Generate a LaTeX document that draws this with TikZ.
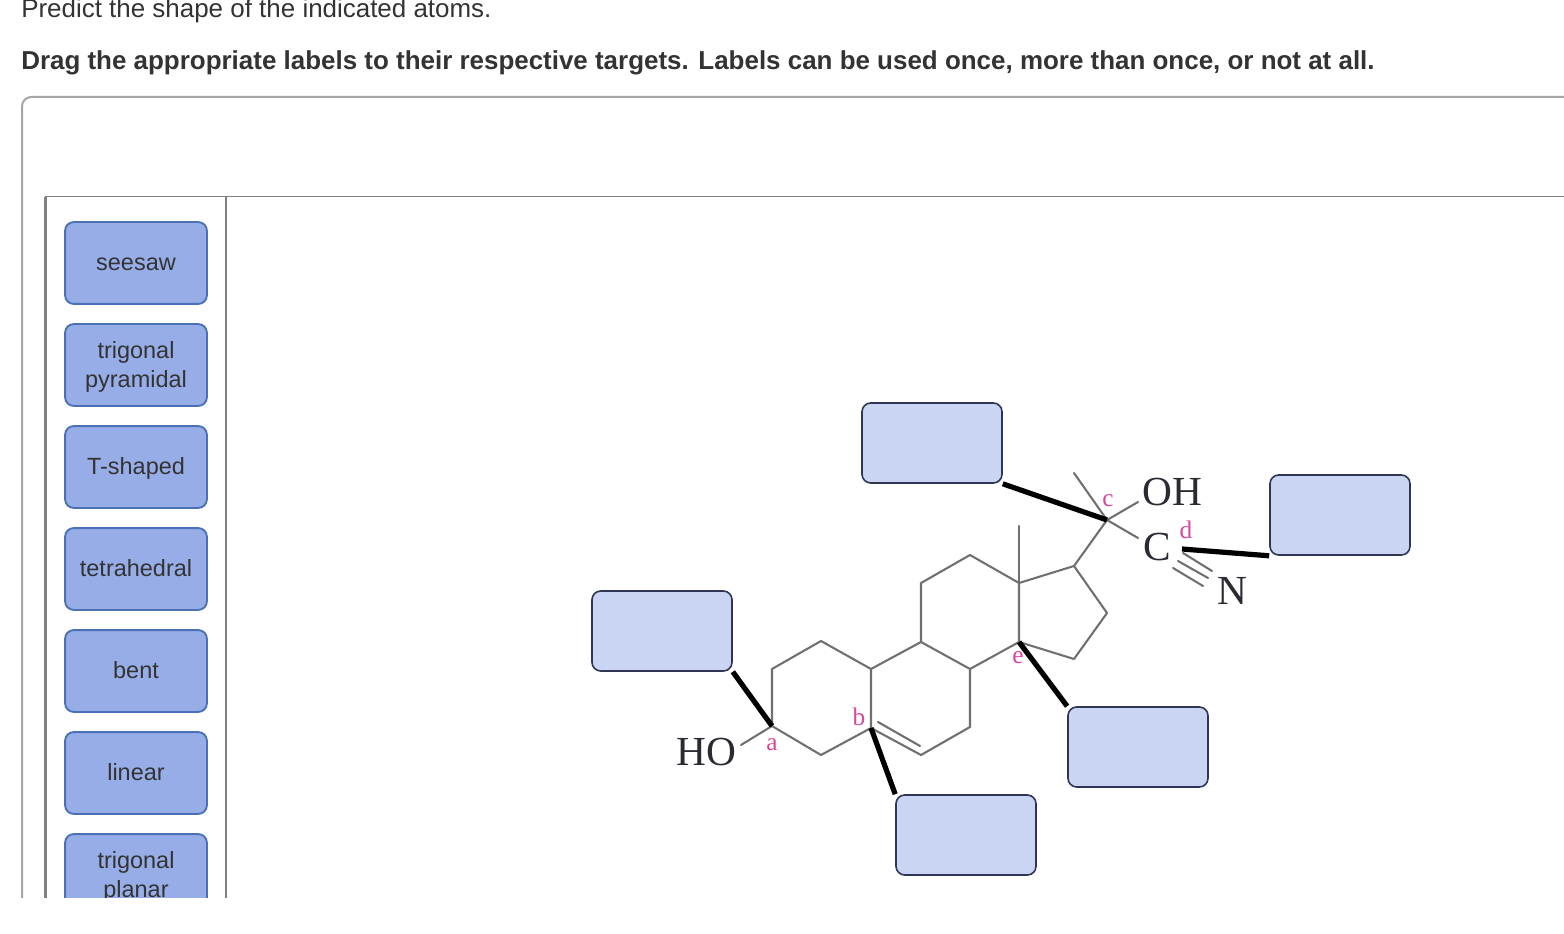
\documentclass[tikz,border=0pt]{standalone}
\usepackage{fontspec}
\setmainfont{Liberation Sans}
\newfontfamily\chemfont{Liberation Serif}
\definecolor{txt}{HTML}{333333}
\definecolor{lblfill}{HTML}{97ADE7}
\definecolor{lbledge}{HTML}{4C70B5}
\definecolor{tgtfill}{HTML}{C9D5F3}
\definecolor{tgtedge}{HTML}{2F3553}
\definecolor{bondc}{HTML}{6F6F6F}
\definecolor{pinkc}{HTML}{D8479E}
\definecolor{chemc}{HTML}{2A2A33}
\newcommand{\firstline}{\rule{0pt}{15.8pt}}
\tikzset{
  x=0.75pt,y=-0.75pt,
  lblbox/.style={draw=lbledge,fill=lblfill,line width=1.4pt,rounded corners=6.5pt,minimum width=106.4pt,minimum height=61.4pt,inner sep=0pt,align=center,text=txt,font=\fontsize{17.6pt}{21.7pt}\selectfont},
  lblsingle/.style={lblbox,text height=14pt,text depth=2.8pt},
  tgtbox/.style={draw=tgtedge,fill=tgtfill,line width=1.2pt,rounded corners=6.5pt,minimum width=105pt,minimum height=60pt,inner sep=0pt},
  bond/.style={draw=bondc,line width=1.55pt,line cap=round,line join=round},
  leader/.style={draw=black,line width=3.9pt},
  atomlab/.style={inner sep=0pt,text=chemc,font=\chemfont\fontsize{31pt}{31pt}\selectfont},
  sitelab/.style={inner sep=0pt,text=pinkc,font=\chemfont\fontsize{19pt}{19pt}\selectfont},
  heading/.style={inner sep=0pt,anchor=base west,text=txt},
  panel/.style={draw=#1}
}
\begin{document}
\begin{tikzpicture}
\useasboundingbox (0,0) rectangle (1564,934);
\fill[white] (0,0) rectangle (1564,934);
\node[heading,font=\fontsize{19.46pt}{22pt}\selectfont] (q1) at (21,18) {Predict the shape of the indicated atoms.};
\node[heading,font=\bfseries\fontsize{19.46pt}{22pt}\selectfont] (q2) at (21,70) {Drag the appropriate labels to their respective targets. Labels can be used once, more than once, or not at all.};
\begin{scope}
\clip (0,0) rectangle (1564,897);
\draw[panel={black!35},line width=1.5pt,rounded corners=7pt] (22,920) -- (22,97) -- (1580,97);
\draw[panel={black!50},line width=0.75pt] (45,197) -- (1580,197);
\draw[panel={black!50},line width=2.6pt] (45.5,197) -- (45.5,920);
\draw[panel={black!50},line width=1.5pt] (226,197) -- (226,920);
\node[lblsingle] (l1) at (136,263) {seesaw};
\node[lblbox] (l2) at (136,365) {\firstline trigonal\\pyramidal};
\node[lblsingle] (l3) at (136,467) {T-shaped};
\node[lblsingle] (l4) at (136,569) {tetrahedral};
\node[lblsingle] (l5) at (136,671) {bent};
\node[lblsingle] (l6) at (136,773) {linear};
\node[lblbox] (l7) at (136,875) {\firstline trigonal\\planar};
\end{scope}
% atoms
\coordinate (a) at (772,726);
\coordinate (a1) at (772,669);
\coordinate (a2) at (821,641);
\coordinate (j1) at (871,669);
\coordinate (b) at (871,728);
\coordinate (a3) at (821,755);
\coordinate (d1) at (921,755);
\coordinate (d2) at (970,727);
\coordinate (j2) at (970,669);
\coordinate (j3) at (921,642);
\coordinate (u1) at (921,583);
\coordinate (u2) at (970,555);
\coordinate (j4) at (1019,583);
\coordinate (e) at (1019,642);
\coordinate (p1) at (1074,566);
\coordinate (p2) at (1107,613);
\coordinate (p3) at (1074,659);
\coordinate (m1) at (1019,526);
\coordinate (c) at (1107,520);
\coordinate (m2) at (1074,473);
\coordinate (hoend) at (741,745);
\coordinate (ohend) at (1138,502);
\coordinate (cnend) at (1138,538);
\coordinate (db1) at (878,722);
\coordinate (db2) at (920,746);
\coordinate (t1a) at (1183,553);
\coordinate (t1b) at (1212,571);
\coordinate (t2a) at (1178,561);
\coordinate (t2b) at (1208,578);
\coordinate (t3a) at (1173,568);
\coordinate (t3b) at (1203,586);
\coordinate (dend) at (1182,549);
\draw[bond] (a) -- (a1) -- (a2) -- (j1) -- (b) -- (a3) -- (a) -- (hoend);
\draw[bond] (j1) -- (j3) -- (j2) -- (d2) -- (d1) -- (b);
\draw[bond] (db1) -- (db2);
\draw[bond] (j3) -- (u1) -- (u2) -- (j4) -- (e) -- (j2);
\draw[bond] (j4) -- (p1) -- (p2) -- (p3) -- (e);
\draw[bond] (j4) -- (m1);
\draw[bond] (p1) -- (c) -- (m2);
\draw[bond] (c) -- (ohend);
\draw[bond] (c) -- (cnend);
\draw[bond] (t1a) -- (t1b);
\draw[bond] (t2a) -- (t2b);
\draw[bond] (t3a) -- (t3b);
\node[atomlab] (ho) at (706,752.5) {HO};
\node[atomlab] (oh) at (1172.5,492.5) {OH};
\node[atomlab] (cn) at (1157.5,547.5) {C};
\node[atomlab] (n) at (1232,590.5) {N};
\node[sitelab] (sa) at (772,745) {a};
\node[sitelab] (sb) at (859,717) {b};
\node[sitelab] (sc) at (1108,501) {c};
\node[sitelab] (sd) at (1186,530) {d};
\node[sitelab] (se) at (1018,658) {e};
% targets
\node[tgtbox] (tA) at (662,631) {};
\node[tgtbox] (tB) at (932,443) {};
\node[tgtbox] (tC) at (1340,515) {};
\node[tgtbox] (tD) at (1138,747) {};
\node[tgtbox] (tE) at (966,835) {};
\draw[leader] (tA.south east) -- (a);
\draw[leader] (tB.south east) -- (c);
\draw[leader] (tC.south west) -- (dend);
\draw[leader] (tD.north west) -- (e);
\draw[leader] (tE.north west) -- (b);
\end{tikzpicture}
\end{document}
